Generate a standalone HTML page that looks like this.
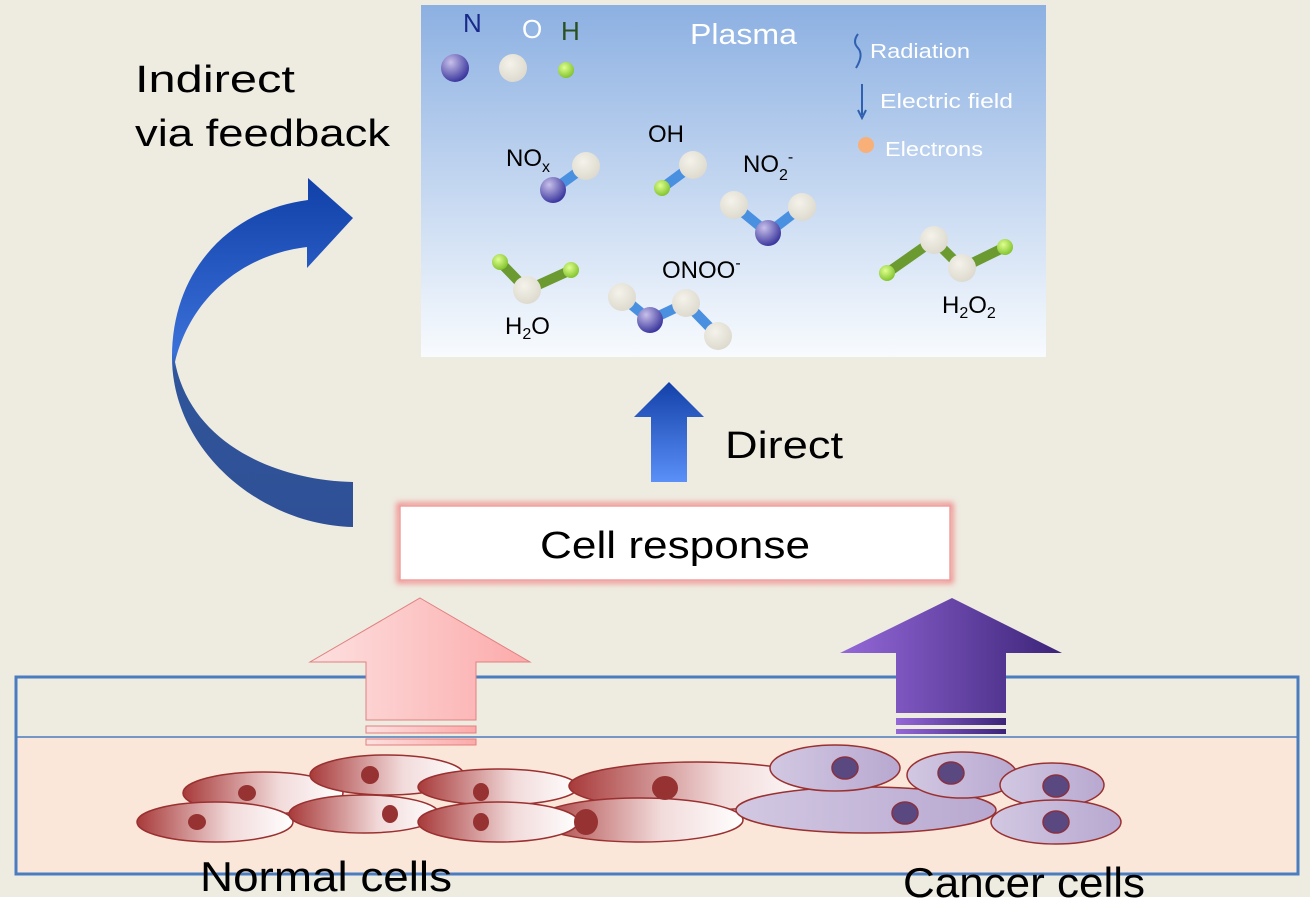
<!DOCTYPE html>
<html><head><meta charset="utf-8"><style>
html,body{margin:0;padding:0;background:#eeebe0;}
svg{display:block;}
text{font-family:"Liberation Sans","DejaVu Sans",sans-serif;}
</style></head><body>
<svg width="1310" height="902" viewBox="0 0 1310 902" xmlns="http://www.w3.org/2000/svg">
<defs>
<linearGradient id="sky" x1="0" y1="0" x2="0" y2="1"><stop offset="0" stop-color="#8cb0e2"/><stop offset="1" stop-color="#f8fbfe"/></linearGradient>
<linearGradient id="curv" x1="0" y1="0" x2="0" y2="1"><stop offset="0" stop-color="#1040a8"/><stop offset="0.5" stop-color="#3a70d8"/><stop offset="0.55" stop-color="#30559a"/><stop offset="1" stop-color="#2f5096"/></linearGradient>
<linearGradient id="dir" x1="0" y1="0" x2="0" y2="1"><stop offset="0" stop-color="#1240a8"/><stop offset="1" stop-color="#5a90f8"/></linearGradient>
<linearGradient id="pink" x1="0" y1="0" x2="1" y2="0"><stop offset="0" stop-color="#fde0e0"/><stop offset="1" stop-color="#fcaaaa"/></linearGradient>
<linearGradient id="purp" x1="0" y1="0" x2="1" y2="0"><stop offset="0" stop-color="#9468d8"/><stop offset="1" stop-color="#3c2478"/></linearGradient>
<linearGradient id="nc" x1="0" y1="0" x2="1" y2="0"><stop offset="0" stop-color="#a83a3a"/><stop offset="0.6" stop-color="#f2dada"/><stop offset="1" stop-color="#ffffff"/></linearGradient>
<linearGradient id="cc" x1="0" y1="0" x2="1" y2="0"><stop offset="0" stop-color="#d2c8e2"/><stop offset="1" stop-color="#b8a8d0"/></linearGradient>
<radialGradient id="nA" cx="0.35" cy="0.3" r="0.75"><stop offset="0" stop-color="#c8c0ea"/><stop offset="1" stop-color="#34309a"/></radialGradient>
<radialGradient id="oA" cx="0.4" cy="0.35" r="0.7"><stop offset="0" stop-color="#f4f2ea"/><stop offset="1" stop-color="#dcd8cc"/></radialGradient>
<radialGradient id="hA" cx="0.4" cy="0.35" r="0.7"><stop offset="0" stop-color="#e0ff90"/><stop offset="1" stop-color="#7cc028"/></radialGradient>
<filter id="glow" x="-5%" y="-20%" width="110%" height="140%"><feGaussianBlur stdDeviation="3"/></filter>
</defs>
<rect width="1310" height="902" fill="#eeebe0"/>
<rect x="0" y="897" width="1310" height="5" fill="#fff"/>

<rect x="421" y="5" width="625" height="352" fill="url(#sky)"/>
<g font-size="24">
<text x="463" y="32" fill="#1a2a8a" font-size="26">N</text>
<text x="522" y="38" fill="#fff" font-size="26">O</text>
<text x="561" y="40" fill="#2a5020" font-size="26">H</text>
<text x="690" y="44" fill="#fff" font-size="29" textLength="107" lengthAdjust="spacingAndGlyphs">Plasma</text>
<text x="870" y="58" fill="#fff" font-size="20" textLength="100" lengthAdjust="spacingAndGlyphs">Radiation</text>
<text x="880" y="108" fill="#fff" font-size="20" textLength="133" lengthAdjust="spacingAndGlyphs">Electric field</text>
<text x="885" y="156" fill="#fff" font-size="20" textLength="98" lengthAdjust="spacingAndGlyphs">Electrons</text>
</g>
<path d="M858,34 q-6,8 0,14 q6,7 -2,20" stroke="#3060b0" stroke-width="2" fill="none"/>
<path d="M862,84 V115 M858,110 L862,118 L866,110" stroke="#3060b0" stroke-width="2" fill="none"/>
<circle cx="866" cy="145" r="8" fill="#f8b078"/>
<circle cx="455" cy="68" r="14" fill="url(#nA)"/>
<circle cx="513" cy="68" r="14" fill="url(#oA)"/>
<circle cx="566" cy="70" r="8" fill="url(#hA)"/>

<g stroke-linecap="round">
<line x1="553" y1="190" x2="586" y2="166" stroke="#4a90e0" stroke-width="10"/>
<circle cx="553" cy="190" r="13" fill="url(#nA)"/><circle cx="586" cy="166" r="14" fill="url(#oA)"/>
<line x1="662" y1="188" x2="693" y2="165" stroke="#4a90e0" stroke-width="10"/>
<circle cx="662" cy="188" r="8" fill="url(#hA)"/><circle cx="693" cy="165" r="14" fill="url(#oA)"/>
<line x1="734" y1="205" x2="768" y2="233" stroke="#4a90e0" stroke-width="10"/>
<line x1="768" y1="233" x2="802" y2="207" stroke="#4a90e0" stroke-width="10"/>
<circle cx="734" cy="205" r="14" fill="url(#oA)"/><circle cx="802" cy="207" r="14" fill="url(#oA)"/><circle cx="768" cy="233" r="13" fill="url(#nA)"/>
<line x1="500" y1="262" x2="527" y2="290" stroke="#6a9a30" stroke-width="10"/>
<line x1="527" y1="290" x2="571" y2="270" stroke="#6a9a30" stroke-width="10"/>
<circle cx="500" cy="262" r="8" fill="url(#hA)"/><circle cx="571" cy="270" r="8" fill="url(#hA)"/><circle cx="527" cy="290" r="14" fill="url(#oA)"/>
<line x1="622" y1="297" x2="650" y2="320" stroke="#4a90e0" stroke-width="10"/>
<line x1="650" y1="320" x2="686" y2="303" stroke="#4a90e0" stroke-width="10"/>
<line x1="686" y1="303" x2="718" y2="336" stroke="#4a90e0" stroke-width="10"/>
<circle cx="622" cy="297" r="14" fill="url(#oA)"/><circle cx="718" cy="336" r="14" fill="url(#oA)"/><circle cx="650" cy="320" r="13" fill="url(#nA)"/><circle cx="686" cy="303" r="14" fill="url(#oA)"/>
<line x1="887" y1="273" x2="934" y2="240" stroke="#6a9a30" stroke-width="10"/>
<line x1="934" y1="240" x2="962" y2="268" stroke="#6a9a30" stroke-width="10"/>
<line x1="962" y1="268" x2="1005" y2="247" stroke="#6a9a30" stroke-width="10"/>
<circle cx="887" cy="273" r="8" fill="url(#hA)"/><circle cx="1005" cy="247" r="8" fill="url(#hA)"/><circle cx="934" cy="240" r="14" fill="url(#oA)"/><circle cx="962" cy="268" r="14" fill="url(#oA)"/>
</g>
<g font-size="24" fill="#000">
<text x="506" y="166">NO<tspan font-size="16" dy="6">x</tspan></text>
<text x="648" y="142">OH</text>
<text x="743" y="172">NO<tspan font-size="16" dy="8">2</tspan><tspan font-size="16" dy="-18">-</tspan></text>
<text x="505" y="334">H<tspan font-size="16" dy="5">2</tspan><tspan dy="-5">O</tspan></text>
<text x="662" y="278">ONOO<tspan font-size="16" dy="-10">-</tspan></text>
<text x="942" y="313">H<tspan font-size="16" dy="5">2</tspan><tspan dy="-5">O</tspan><tspan font-size="16" dy="5">2</tspan></text>
</g>

<text x="135" y="92" font-size="38" textLength="160" lengthAdjust="spacingAndGlyphs">Indirect</text>
<text x="135" y="146" font-size="38" textLength="255" lengthAdjust="spacingAndGlyphs">via feedback</text>
<text x="725" y="458" font-size="38" textLength="118" lengthAdjust="spacingAndGlyphs">Direct</text>

<path d="M308,200 C230,210 172,270 172,357 C172,450 260,525 353,527 L353,482 C270,480 190,440 175,362 C190,300 240,255 307,247 L307,268 L353,218 L308,178 Z" fill="url(#curv)"/>
<path d="M669,382 L704,417 L687,417 L687,482 L651,482 L651,417 L634,417 Z" fill="url(#dir)"/>

<rect x="399" y="505" width="552" height="76" fill="none" stroke="#f08c8c" stroke-width="5" filter="url(#glow)"/>
<rect x="400" y="506" width="550" height="74" fill="#fff" stroke="#f0a0a0" stroke-width="1.5"/>
<text x="540" y="558" font-size="38" textLength="270" lengthAdjust="spacingAndGlyphs">Cell response</text>

<rect x="16" y="737" width="1282" height="137" fill="#fbe7d9"/>
<rect x="16" y="677" width="1282" height="197" fill="none" stroke="#4a7cc0" stroke-width="3"/>
<line x1="16" y1="737" x2="1298" y2="737" stroke="#4a7cc0" stroke-width="1.5"/>

<path d="M420,598 L530,662 L476,662 L476,720 L366,720 L366,662 L310,662 Z" fill="url(#pink)" stroke="#e08080" stroke-width="1"/>
<rect x="366" y="726" width="110" height="7" fill="url(#pink)" stroke="#e08080"/>
<rect x="366" y="739" width="110" height="6" fill="url(#pink)" stroke="#e08080"/>
<path d="M952,598 L1062,653 L1006,653 L1006,713 L896,713 L896,653 L840,653 Z" fill="url(#purp)"/>
<rect x="896" y="718" width="110" height="7" fill="url(#purp)"/>
<rect x="896" y="729" width="110" height="5" fill="url(#purp)"/>

<g stroke="#9a3030" stroke-width="1.5">
<ellipse cx="263" cy="793" rx="80" ry="21" fill="url(#nc)"/>
<ellipse cx="387" cy="775" rx="77" ry="20" fill="url(#nc)"/>
<ellipse cx="215" cy="822" rx="78" ry="20" fill="url(#nc)"/>
<ellipse cx="364" cy="814" rx="75" ry="19" fill="url(#nc)"/>
<ellipse cx="498" cy="787" rx="80" ry="18" fill="url(#nc)"/>
<ellipse cx="697" cy="786" rx="128" ry="24" fill="url(#nc)"/>
<ellipse cx="640" cy="820" rx="103" ry="22" fill="url(#nc)"/>
<ellipse cx="498" cy="822" rx="80" ry="20" fill="url(#nc)"/>
</g>
<g fill="#963232">
<ellipse cx="247" cy="793" rx="9" ry="8"/><ellipse cx="370" cy="775" rx="9" ry="9"/><ellipse cx="197" cy="822" rx="9" ry="8"/>
<ellipse cx="390" cy="814" rx="8" ry="9"/><ellipse cx="481" cy="792" rx="8" ry="9"/><ellipse cx="665" cy="788" rx="13" ry="12"/>
<ellipse cx="586" cy="822" rx="12" ry="13"/><ellipse cx="481" cy="822" rx="8" ry="9"/>
</g>
<g stroke="#9a3030" stroke-width="1.5" fill="url(#cc)">
<ellipse cx="866" cy="810" rx="130" ry="23"/>
<ellipse cx="835" cy="768" rx="65" ry="23"/>
<ellipse cx="962" cy="775" rx="55" ry="23"/>
<ellipse cx="1052" cy="785" rx="52" ry="22"/>
<ellipse cx="1056" cy="822" rx="65" ry="22"/>
</g>
<g fill="#5a4880" stroke="#8a3040" stroke-width="1.5">
<ellipse cx="905" cy="813" rx="13" ry="11"/><ellipse cx="845" cy="768" rx="13" ry="11"/><ellipse cx="951" cy="773" rx="13" ry="11"/>
<ellipse cx="1056" cy="786" rx="13" ry="11"/><ellipse cx="1056" cy="822" rx="13" ry="11"/>
</g>

<text x="200" y="891" font-size="42" textLength="252" lengthAdjust="spacingAndGlyphs">Normal cells</text>
<text x="903" y="897" font-size="42" textLength="242" lengthAdjust="spacingAndGlyphs">Cancer cells</text>
</svg>
</body></html>
